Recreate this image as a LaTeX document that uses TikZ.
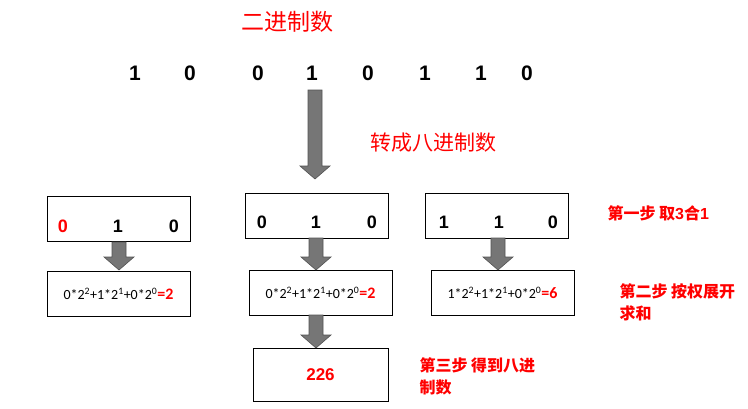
\documentclass[tikz,border=0pt]{standalone}
\usepackage{fontspec}
\setmainfont{Carlito}
\newfontfamily\cjk{Noto Sans CJK SC}
\newfontfamily\arial{Liberation Sans}
\usetikzlibrary{arrows.meta}
\definecolor{rd}{RGB}{255,0,0}
\definecolor{ag}{RGB}{118,118,118}
\tikzset{
  bx/.style={draw,line width=0.8pt,minimum width=143pt,minimum height=45pt,inner sep=0},
  bit/.style={font=\arial\fontsize{21}{21}\selectfont\bfseries},
  dg/.style={font=\arial\fontsize{18}{18}\selectfont\bfseries},
  fm/.style={font=\fontsize{14}{14}\selectfont},
  lab/.style={text=rd,font=\cjk\bfseries\fontsize{16}{22}\selectfont,align=left,anchor=west},
  barrow/.style={draw=ag!70!black,fill=ag,line width=0.6pt}
}
\newcommand{\blockarrow}[3]{% x, ytop, ybot
  \draw[barrow] (#1-7,#2) -- (#1+7,#2) -- (#1+7,#3-13) -- (#1+15,#3-13) -- (#1,#3) -- (#1-15,#3-13) -- (#1-7,#3-13) -- cycle;}
\begin{document}
\begin{tikzpicture}[x=1pt,y=-1pt]
\useasboundingbox (0,0) rectangle (748,408);
\node[text=rd,font=\cjk\fontsize{23}{23}\selectfont] (t) at (287,22) {二进制数};
\foreach \v/\x [count=\i] in {1/135,0/190,0/258,1/312,0/368,1/425,1/481,0/527}
  \node[bit] (b\i) at (\x,73) {\v};
\node[text=rd,font=\cjk\fontsize{21}{21}\selectfont] (t2) at (433,143) {转成八进制数};
\node[bx] (g1) at (118.5,219) {};
\node[bx] (g2) at (316.5,215.5) {};
\node[bx] (g3) at (496.5,215.5) {};
\node[dg,text=rd] at (63,226) {0};
\node[dg] at (118,226) {1};
\node[dg] at (174,226) {0};
\node[dg] at (262,222) {0};
\node[dg] at (316,222) {1};
\node[dg] at (372,222) {0};
\node[dg] at (444,222) {1};
\node[dg] at (499,222) {1};
\node[dg] at (553,222) {0};
\node[bx] (f1) at (118.5,293.5) {};
\node[bx] (f2) at (320.5,292.5) {};
\node[bx] (f3) at (502.5,293) {};
\node[fm] at (f1) {0*2\textsuperscript{2}+1*2\textsuperscript{1}+0*2\textsuperscript{0}\textcolor{rd}{\bfseries\fontsize{16}{16}\selectfont=2}};
\node[fm] at (f2) {0*2\textsuperscript{2}+1*2\textsuperscript{1}+0*2\textsuperscript{0}\textcolor{rd}{\bfseries\fontsize{16}{16}\selectfont=2}};
\node[fm] at (f3) {1*2\textsuperscript{2}+1*2\textsuperscript{1}+0*2\textsuperscript{0}\textcolor{rd}{\bfseries\fontsize{16}{16}\selectfont=6}};
\node[bx,minimum width=135pt,minimum height=53pt] (r) at (320.5,375) {};
\node[text=rd,font=\arial\fontsize{17}{17}\selectfont\bfseries] at (r) {226};
\blockarrow{315}{90}{179}
\blockarrow{119}{242}{270}
\blockarrow{316}{238}{270}
\blockarrow{498}{238}{270}
\blockarrow{316}{315}{348}
\node[lab] at (604,213) {第一步\ 取{\arial 3}合{\arial 1}};
\node[lab] at (616,302) {第二步\ 按权展开\\求和};
\node[lab] at (416,376) {第三步\ 得到八进\\制数};
\end{tikzpicture}
\end{document}
